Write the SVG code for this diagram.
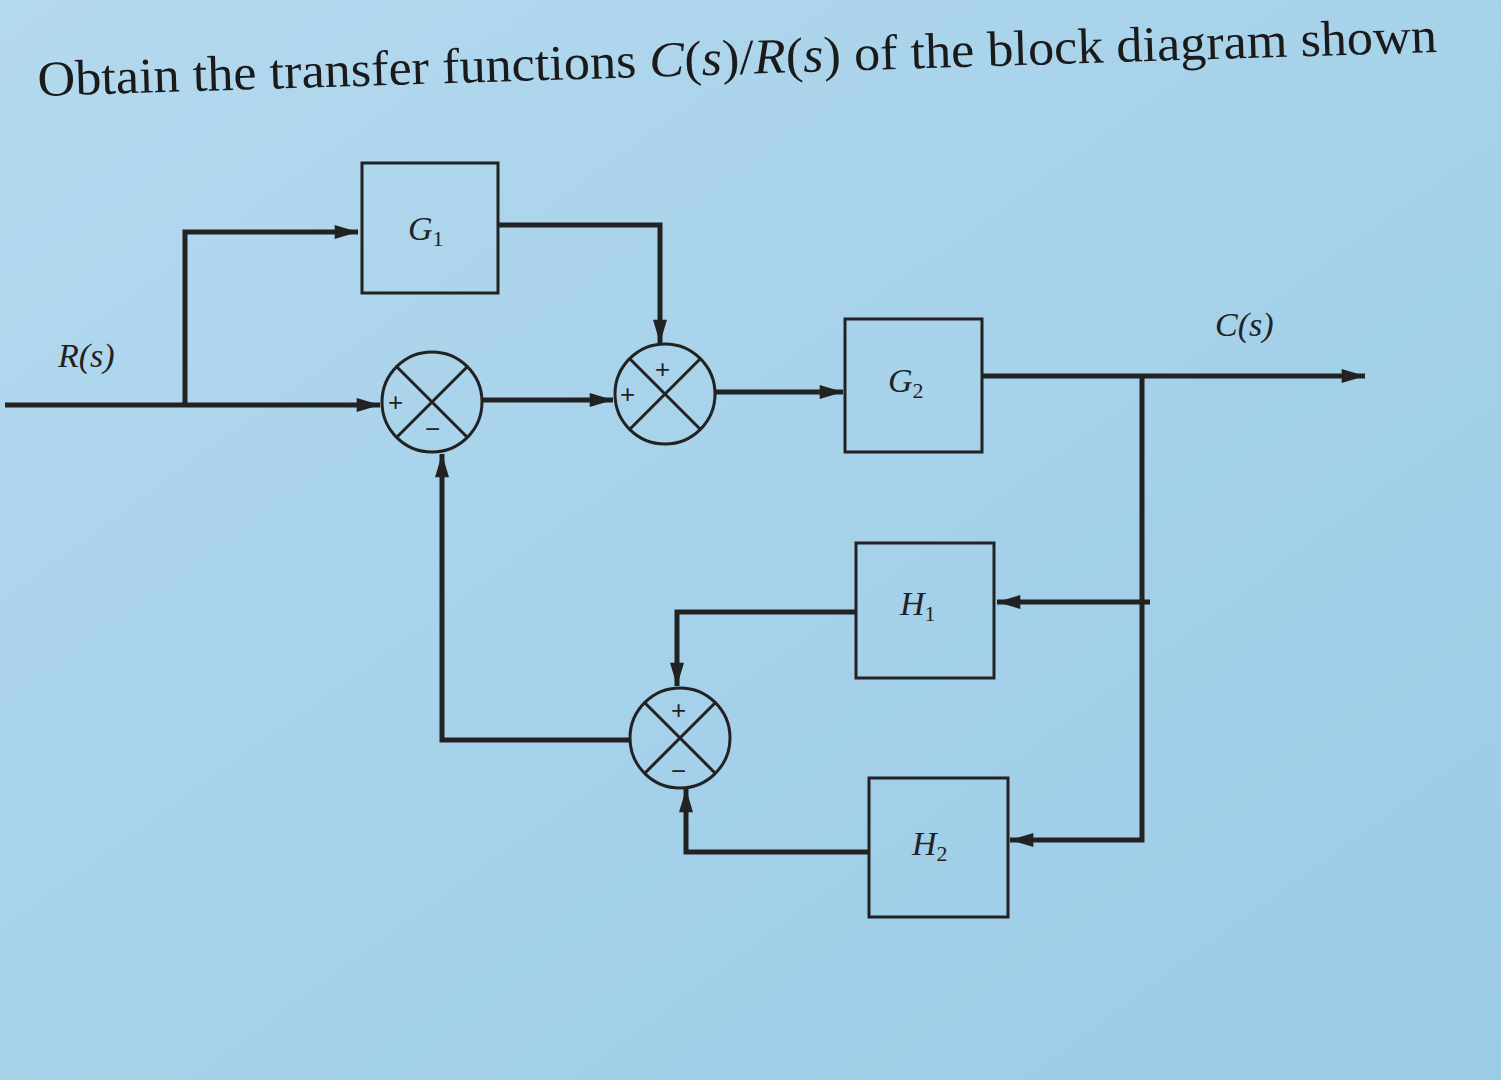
<svg xmlns="http://www.w3.org/2000/svg" width="1501" height="1080" viewBox="0 0 1501 1080">
<defs>
<linearGradient id="bg" x1="0" y1="0" x2="1" y2="1">
<stop offset="0" stop-color="#b4d9ee"/><stop offset="0.5" stop-color="#a6d2ea"/><stop offset="1" stop-color="#9ccbe6"/>
</linearGradient>
<style>
.ln{fill:none;stroke:#222;stroke-width:5}
.bx{fill:none;stroke:#222;stroke-width:3}
.lb{font-family:"Liberation Serif",serif;font-style:italic;font-size:34px;fill:#222}
.sg{font-family:"Liberation Sans",sans-serif;font-size:26px;fill:#222}
</style>
<marker id="a" viewBox="0 0 20 12" refX="20" refY="6" markerWidth="24" markerHeight="14" markerUnits="userSpaceOnUse" orient="auto"><path d="M0,0 L20,6 L0,12 Z" fill="#222"/></marker>
</defs>
<rect width="1501" height="1080" fill="url(#bg)"/>
<text x="38" y="96" transform="rotate(-1.8 38 96)" textLength="1400" lengthAdjust="spacingAndGlyphs" font-family="Liberation Serif,serif" font-size="50" fill="#1a1a1a">Obtain the transfer functions <tspan font-style="italic">C</tspan>(<tspan font-style="italic">s</tspan>)/<tspan font-style="italic">R</tspan>(<tspan font-style="italic">s</tspan>) of the block diagram shown</text>
<g id="connectors">
<path class="ln" d="M5,405 H380" marker-end="url(#a)"/>
<path class="ln" d="M185,405 V232 H358" marker-end="url(#a)"/>
<path class="ln" d="M498,225 H660 V343" marker-end="url(#a)"/>
<path class="ln" d="M482,400 H613" marker-end="url(#a)"/>
<path class="ln" d="M715,392 H843" marker-end="url(#a)"/>
<path class="ln" d="M982,376 H1365" marker-end="url(#a)"/>
<path class="ln" d="M1142,376 V840 H1010" marker-end="url(#a)"/>
<path class="ln" d="M1150,602 H997" marker-end="url(#a)"/>
<path class="ln" d="M855,612 H677 V686" marker-end="url(#a)"/>
<path class="ln" d="M868,852 H686 V789" marker-end="url(#a)"/>
<path class="ln" d="M630,740 H442 V454" marker-end="url(#a)"/>
</g>
<g id="G1"><rect class="bx" x="362" y="163" width="136" height="130"/><text class="lb" x="408" y="240">G<tspan font-size="22" font-style="normal" dy="6">1</tspan></text></g>
<g id="G2"><rect class="bx" x="845" y="319" width="137" height="133"/><text class="lb" x="888" y="392">G<tspan font-size="22" font-style="normal" dy="6">2</tspan></text></g>
<g id="H1"><rect class="bx" x="856" y="543" width="138" height="135"/><text class="lb" x="900" y="615">H<tspan font-size="22" font-style="normal" dy="6">1</tspan></text></g>
<g id="H2"><rect class="bx" x="869" y="778" width="139" height="139"/><text class="lb" x="912" y="855">H<tspan font-size="22" font-style="normal" dy="6">2</tspan></text></g>
<g id="sum1"><circle class="bx" cx="432" cy="402" r="50"/><path class="bx" d="M397,367 L467,437 M467,367 L397,437"/><text class="sg" x="388" y="411">+</text><text class="sg" x="425" y="438">−</text></g>
<g id="sum2"><circle class="bx" cx="665" cy="394" r="50"/><path class="bx" d="M630,359 L700,429 M700,359 L630,429"/><text class="sg" x="620" y="403">+</text><text class="sg" x="655" y="378">+</text></g>
<g id="sum3"><circle class="bx" cx="680" cy="738" r="50"/><path class="bx" d="M645,703 L715,773 M715,703 L645,773"/><text class="sg" x="671" y="719">+</text><text class="sg" x="671" y="780">−</text></g>
<g id="labels"><text class="lb" x="58" y="367" font-size="30">R(s)</text><text class="lb" x="1215" y="336" font-size="30">C(s)</text></g>
</svg>
